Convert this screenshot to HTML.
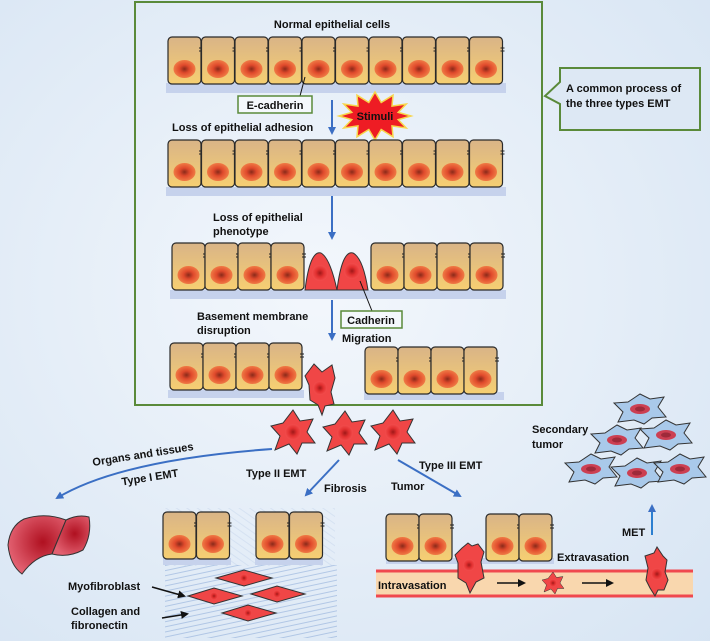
<!DOCTYPE html>
<html><head><meta charset="utf-8"><style>
html,body{margin:0;padding:0;width:710px;height:641px;overflow:hidden;}
svg{display:block;font-family:"Liberation Sans",Arial,sans-serif;font-weight:bold;}
</style></head><body>
<svg width="710" height="641" viewBox="0 0 710 641" xmlns="http://www.w3.org/2000/svg">
<defs>
<radialGradient id="bg" cx="0.45" cy="0.45" r="0.8">
<stop offset="0" stop-color="#f3f7fc"/><stop offset="1" stop-color="#d6e4f3"/></radialGradient>
<linearGradient id="cg" x1="0" y1="0" x2="0" y2="1">
<stop offset="0" stop-color="#d9b487"/><stop offset="1" stop-color="#f6cf72"/></linearGradient>
<radialGradient id="ng"><stop offset="0" stop-color="#8a2a1a"/><stop offset="0.45" stop-color="#e04a2c"/><stop offset="1" stop-color="#f07a45"/></radialGradient>
<radialGradient id="rg"><stop offset="0" stop-color="#a01818"/><stop offset="0.5" stop-color="#e23030"/><stop offset="1" stop-color="#f24c4c"/></radialGradient>
<radialGradient id="lg" cx="0.6" cy="0.45" r="0.6"><stop offset="0" stop-color="#b01020"/><stop offset="1" stop-color="#e26070"/></radialGradient>
<pattern id="hatch" width="5" height="5" patternUnits="userSpaceOnUse" patternTransform="rotate(-12)">
<line x1="0" y1="2.5" x2="5" y2="2.5" stroke="#5b86c8" stroke-width="0.6"/></pattern>
<pattern id="hatch2" width="6" height="6" patternUnits="userSpaceOnUse" patternTransform="rotate(35)">
<line x1="0" y1="3" x2="6" y2="3" stroke="#8eaad8" stroke-width="0.4"/></pattern>
<g id="c">
<rect x="0" y="0" width="33" height="47" rx="4" fill="url(#cg)" stroke="#2a2a2a" stroke-width="1.2"/>
<ellipse cx="16.5" cy="32" rx="11" ry="9" fill="url(#ng)"/>
<line x1="31" y1="11" x2="35" y2="11" stroke="#222" stroke-width="1"/>
<line x1="31" y1="14" x2="35" y2="14" stroke="#222" stroke-width="1"/>
</g>
<g id="m">
<path d="M0,-22 L7,-11 L20,-13 L14,0 L22,11 L9,11 L4,22 L-4,12 L-18,18 L-13,4 L-22,-6 L-10,-9 Z" fill="#f04646" stroke="#333" stroke-width="1"/>
<circle r="8" fill="url(#rg)"/>
</g>
<g id="b">
<path d="M0,-15 L10,-10 L24,-12 L18,-2 L26,8 L12,9 L4,15 L-6,11 L-22,13 L-17,3 L-26,-6 L-12,-7 Z" fill="#a9c9ea" stroke="#333" stroke-width="1"/>
<ellipse rx="10" ry="5" fill="#cc3f52"/><ellipse rx="5" ry="2.5" fill="#9e2a3a"/>
</g>
<marker id="ab" markerWidth="8" markerHeight="8" refX="6" refY="4" orient="auto" markerUnits="userSpaceOnUse"><path d="M0,0 L8,4 L0,8 Z" fill="#3b6fc4"/></marker>
<marker id="ak" markerWidth="8" markerHeight="8" refX="6" refY="4" orient="auto" markerUnits="userSpaceOnUse"><path d="M0,0 L8,4 L0,8 Z" fill="#111"/></marker>
</defs>
<rect width="710" height="641" fill="url(#bg)"/>

<rect x="135" y="2" width="407" height="403" fill="none" stroke="#5a8a3a" stroke-width="2"/>
<path d="M560,68 H700 V130 H560 V104 L545,96 L560,82 Z" fill="#dde8f4" stroke="#5a8a3a" stroke-width="2"/>
<text x="566" y="92" font-size="11" fill="#111">A common process  of</text>
<text x="566" y="107" font-size="11" fill="#111">the three types EMT</text>

<text x="332" y="28" font-size="11" text-anchor="middle" fill="#111">Normal epithelial cells</text>

<rect x="166" y="83" width="340" height="10" fill="#c6d2ec"/>
<g transform="translate(168,37)"><use href="#c"/><use href="#c" x="33.5"/><use href="#c" x="67"/><use href="#c" x="100.5"/><use href="#c" x="134"/><use href="#c" x="167.5"/><use href="#c" x="201"/><use href="#c" x="234.5"/><use href="#c" x="268"/><use href="#c" x="301.5"/></g>
<line x1="305" y1="77" x2="300" y2="96" stroke="#111" stroke-width="1"/>
<rect x="238" y="96" width="74" height="17" fill="#f4f8fc" stroke="#5a8a3a" stroke-width="1.5"/>
<text x="275" y="109" font-size="11" text-anchor="middle" fill="#111">E-cadherin</text>
<line x1="332" y1="100" x2="332" y2="133" stroke="#3b6fc4" stroke-width="2" marker-end="url(#ab)"/>
<polygon points="411,116 398.2,119.6 406.2,128 392,125.9 393,136.8 381.2,129.5 375,140 368.8,129.5 357,136.8 358,125.9 343.8,128 351.8,119.6 339,116 351.8,112.4 343.8,104 358,106.1 357,95.2 368.8,102.5 375,92 381.2,102.5 393,95.2 392,106.1 406.2,104 398.2,112.4" fill="#ee1c24" stroke="#f7d54a" stroke-width="1.5"/>
<text x="375" y="120" font-size="11" text-anchor="middle" fill="#111">Stimuli</text>
<text x="172" y="131" font-size="11" fill="#111">Loss of epithelial adhesion</text>

<rect x="166" y="187" width="340" height="9" fill="#c6d2ec"/>
<g transform="translate(168,140)"><use href="#c"/><use href="#c" x="33.5"/><use href="#c" x="67"/><use href="#c" x="100.5"/><use href="#c" x="134"/><use href="#c" x="167.5"/><use href="#c" x="201"/><use href="#c" x="234.5"/><use href="#c" x="268"/><use href="#c" x="301.5"/></g>
<line x1="332" y1="196" x2="332" y2="238" stroke="#3b6fc4" stroke-width="2" marker-end="url(#ab)"/>
<text x="213" y="221" font-size="11" fill="#111">Loss of epithelial</text>
<text x="213" y="235" font-size="11" fill="#111">phenotype</text>

<rect x="170" y="290" width="336" height="9" fill="#c6d2ec"/>
<g transform="translate(172,243)"><use href="#c"/><use href="#c" x="33"/><use href="#c" x="66"/><use href="#c" x="99"/></g>
<g transform="translate(371,243)"><use href="#c"/><use href="#c" x="33"/><use href="#c" x="66"/><use href="#c" x="99"/></g>
<path d="M305,290 Q310,250 321,253 Q330,258 337,290 Z" fill="#f04646" stroke="#333"/>
<circle cx="320" cy="273" r="8" fill="url(#rg)"/>
<path d="M337,290 Q342,250 353,253 Q363,258 368,290 Z" fill="#f04646" stroke="#333"/>
<circle cx="352" cy="271" r="8" fill="url(#rg)"/>
<line x1="360" y1="281" x2="372" y2="311" stroke="#111" stroke-width="1"/>
<rect x="341" y="311" width="61" height="17" fill="#f4f8fc" stroke="#5a8a3a" stroke-width="1.5"/>
<text x="371" y="324" font-size="11" text-anchor="middle" fill="#111">Cadherin</text>
<line x1="332" y1="300" x2="332" y2="339" stroke="#3b6fc4" stroke-width="2" marker-end="url(#ab)"/>
<text x="342" y="342" font-size="11" fill="#111">Migration</text>
<text x="197" y="320" font-size="11" fill="#111">Basement membrane</text>
<text x="197" y="334" font-size="11" fill="#111">disruption</text>

<rect x="168" y="390" width="136" height="8" fill="#c6d2ec"/>
<rect x="364" y="392" width="140" height="8" fill="#c6d2ec"/>
<g transform="translate(170,343)"><use href="#c"/><use href="#c" x="33"/><use href="#c" x="66"/><use href="#c" x="99"/></g>
<g transform="translate(365,347)"><use href="#c"/><use href="#c" x="33"/><use href="#c" x="66"/><use href="#c" x="99"/></g>
<path d="M314,364 L322,372 L332,365 L335,378 L331,392 L334,404 L325,406 L322,415 L318,405 L310,400 L309,385 L305,376 Z" fill="#f04646" stroke="#333"/>
<circle cx="320" cy="388" r="7" fill="url(#rg)"/>

<use href="#m" x="293" y="432"/>
<use href="#m" x="345" y="433"/>
<use href="#m" x="393" y="432"/>

<path d="M272,449 Q120,460 57,498" fill="none" stroke="#3b6fc4" stroke-width="2" marker-end="url(#ab)"/>
<line x1="339" y1="460" x2="306" y2="495" stroke="#3b6fc4" stroke-width="2" marker-end="url(#ab)"/>
<line x1="398" y1="460" x2="460" y2="496" stroke="#3b6fc4" stroke-width="2" marker-end="url(#ab)"/>
<text x="143" y="458" font-size="11" text-anchor="middle" fill="#111" transform="rotate(-9 143 455)">Organs and tissues</text>
<text x="150" y="481" font-size="11" text-anchor="middle" fill="#111" transform="rotate(-9 150 478)">Type I EMT</text>
<text x="246" y="477" font-size="11" fill="#111">Type II EMT</text>
<text x="324" y="492" font-size="11" fill="#111">Fibrosis</text>
<text x="391" y="490" font-size="11" fill="#111">Tumor</text>
<text x="419" y="469" font-size="11" fill="#111">Type III EMT</text>

<!-- liver -->
<path d="M52,554 Q35,556 22,574 Q10,565 8,545 Q10,526 24,519 Q45,512 66,520 Z" fill="url(#lg)" stroke="#333"/>
<path d="M66,520 Q78,514 89,517 Q92,535 83,550 Q68,558 52,554 Z" fill="url(#lg)" stroke="#333"/>

<rect x="165" y="565" width="172" height="73" fill="url(#hatch)" opacity="0.6"/>
<rect x="165" y="508" width="170" height="58" fill="url(#hatch2)" opacity="0.45"/>
<rect x="163" y="558" width="68" height="7" fill="#c6d2ec"/>
<rect x="255" y="558" width="68" height="7" fill="#c6d2ec"/>
<g transform="translate(163,512)"><use href="#c"/><use href="#c" x="33.5"/></g>
<g transform="translate(256,512)"><use href="#c"/><use href="#c" x="33.5"/></g>
<g fill="#f04646" stroke="#333">
<path d="M216,578 L244,570 L272,578 L244,586 Z"/>
<path d="M188,596 L214,588 L242,596 L214,604 Z"/>
<path d="M251,594 L277,586 L305,594 L277,602 Z"/>
<path d="M222,613 L248,605 L276,613 L248,621 Z"/>
</g>
<circle cx="244" cy="578" r="4" fill="url(#rg)"/><circle cx="214" cy="596" r="4" fill="url(#rg)"/>
<circle cx="277" cy="594" r="4" fill="url(#rg)"/><circle cx="248" cy="613" r="4" fill="url(#rg)"/>
<text x="68" y="590" font-size="11" fill="#111">Myofibroblast</text>
<line x1="152" y1="587" x2="184" y2="596" stroke="#111" stroke-width="1.5" marker-end="url(#ak)"/>
<text x="71" y="615" font-size="11" fill="#111">Collagen and</text>
<text x="71" y="629" font-size="11" fill="#111">fibronectin</text>
<line x1="162" y1="618" x2="187" y2="614" stroke="#111" stroke-width="1.5" marker-end="url(#ak)"/>

<rect x="386" y="558" width="168" height="6" fill="#c6d2ec"/>
<rect x="376" y="571" width="317" height="25" fill="#f9d7ae"/>
<line x1="376" y1="571" x2="693" y2="571" stroke="#f0484e" stroke-width="3"/>
<line x1="376" y1="596" x2="693" y2="596" stroke="#f0484e" stroke-width="3"/>
<g transform="translate(386,514)"><use href="#c"/><use href="#c" x="33"/></g>
<g transform="translate(486,514)"><use href="#c"/><use href="#c" x="33"/></g>
<text x="378" y="589" font-size="11" fill="#111">Intravasation</text>
<path d="M462,548 L468,543 L472,546 L478,544 L484,552 L481,562 L484,578 L476,582 L470,593 L466,583 L458,578 L458,563 L455,555 Z" fill="#f04646" stroke="#333"/>
<circle cx="469" cy="565" r="6" fill="url(#rg)"/>
<line x1="497" y1="583" x2="524" y2="583" stroke="#111" stroke-width="1.5" marker-end="url(#ak)"/>
<g transform="translate(553,583) scale(0.5)"><use href="#m"/></g>
<line x1="582" y1="583" x2="612" y2="583" stroke="#111" stroke-width="1.5" marker-end="url(#ak)"/>
<path d="M654,553 L657,547 L663,556 L667,560 L665,572 L668,580 L664,590 L658,590 L655,596 L650,588 L646,580 L648,568 L645,556 Z" fill="#f04646" stroke="#333"/>
<circle cx="657" cy="574" r="6" fill="url(#rg)"/>
<text x="557" y="561" font-size="11" fill="#111">Extravasation</text>
<line x1="652" y1="535" x2="652" y2="506" stroke="#2c7fd0" stroke-width="2" marker-end="url(#ab)"/>
<text x="622" y="536" font-size="11" fill="#111">MET</text>

<use href="#b" x="640" y="409"/>
<use href="#b" x="617" y="440"/>
<use href="#b" x="666" y="435"/>
<use href="#b" x="591" y="469"/>
<use href="#b" x="637" y="473"/>
<use href="#b" x="680" y="469"/>
<text x="532" y="433" font-size="11" fill="#111">Secondary</text>
<text x="532" y="448" font-size="11" fill="#111">tumor</text>
</svg>
</body></html>
